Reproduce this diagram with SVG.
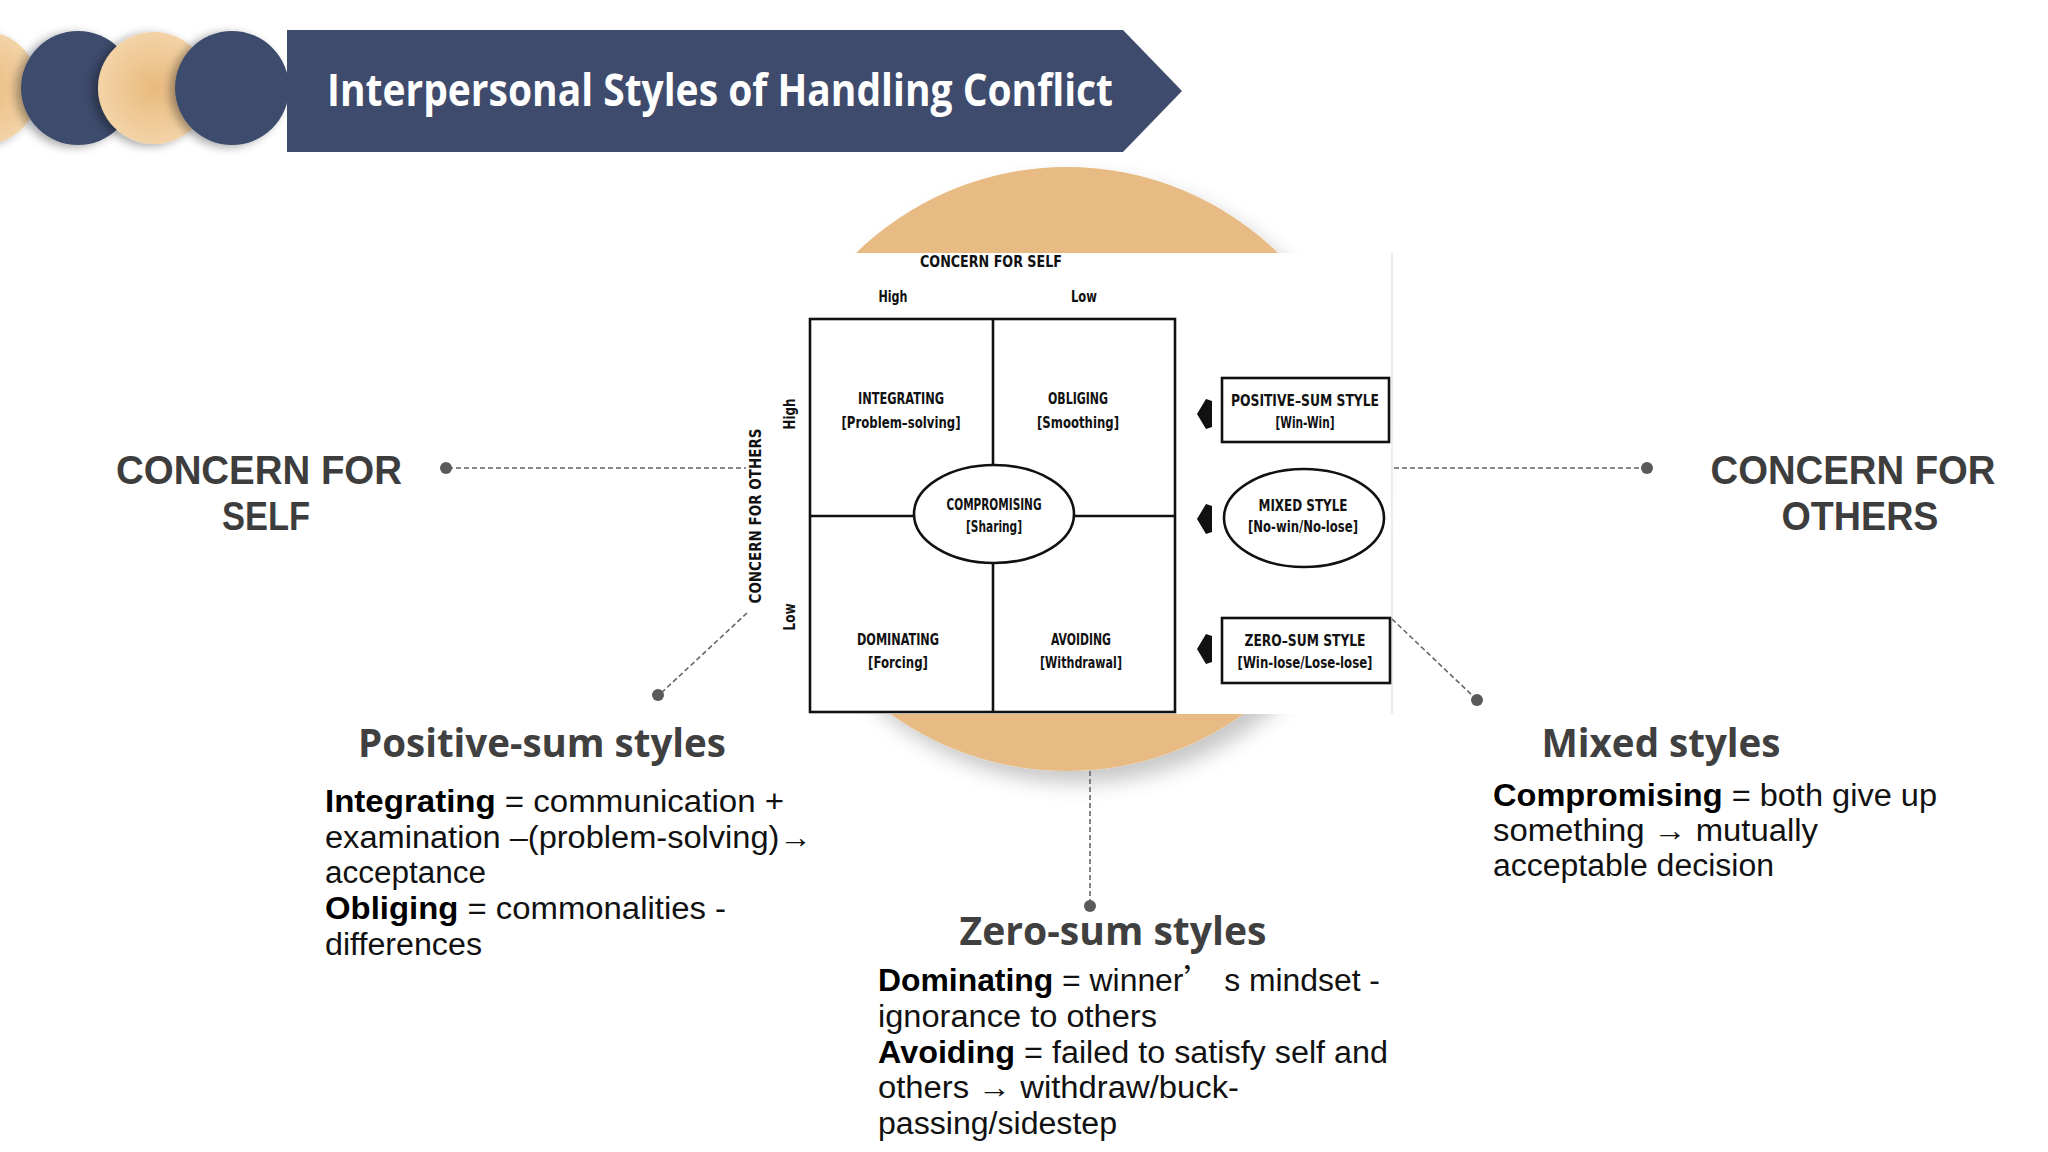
<svg xmlns="http://www.w3.org/2000/svg" width="2048" height="1152" viewBox="0 0 2048 1152">
  <defs>
    <radialGradient id="tanGrad" cx="50%" cy="50%" r="50%">
      <stop offset="0%" stop-color="#e9ba7e"/>
      <stop offset="100%" stop-color="#f3d3a7"/>
    </radialGradient>
    <filter id="circShadow" x="-30%" y="-30%" width="160%" height="160%">
      <feDropShadow dx="-5" dy="2" stdDeviation="5" flood-color="#000" flood-opacity="0.35"/>
    </filter>
    <filter id="bigShadow" x="-20%" y="-20%" width="140%" height="140%">
      <feDropShadow dx="10" dy="12" stdDeviation="10" flood-color="#000" flood-opacity="0.22"/>
    </filter>
    <style>
      .navy { fill: #3e4b6c; }
      .tan { fill: url(#tanGrad); }
      .title { font-family: "Open Sans", "Liberation Sans", sans-serif; font-weight: 700; font-size: 44px; fill: #ffffff; }
      .big { font-family: "Liberation Sans", Arial, sans-serif; font-weight: 700; font-size: 41px; fill: #3d3d3d; }
      .head { font-family: "Open Sans", "Liberation Sans", sans-serif; font-weight: 700; font-size: 39px; fill: #404040; }
      .body { font-family: "Liberation Sans", Arial, sans-serif; font-size: 31px; fill: #111111; }
      .b { font-weight: 700; fill: #000000; }
      .cjk { font-family: "Noto Sans CJK SC", sans-serif; }
      .fig { font-family: "DejaVu Sans Condensed", "Liberation Sans", sans-serif; font-weight: 700; font-size: 15px; fill: #111111; }
      .ln { fill: none; stroke: #111111; stroke-width: 2.6; }
      .dash { fill: none; stroke: #666666; stroke-width: 1.6; stroke-dasharray: 5 3; }
      .dot { fill: #5a5a5a; }
      .arr { fill: #111111; }
    </style>
  </defs>

  <rect x="0" y="0" width="2048" height="1152" fill="#ffffff"/>

  <!-- Header -->
  <g id="header">
    <circle class="tan" cx="-18" cy="88" r="57" filter="url(#circShadow)"/>
    <circle class="navy" cx="78" cy="88" r="57" filter="url(#circShadow)"/>
    <circle class="tan" cx="154" cy="88" r="56" filter="url(#circShadow)"/>
    <circle class="navy" cx="232" cy="88" r="57" filter="url(#circShadow)"/>
    <polygon class="navy" points="287,30 1123,30 1182,91 1123,152 287,152"/>
    <text class="title" x="327" y="106" textLength="786" lengthAdjust="spacingAndGlyphs">Interpersonal Styles of Handling Conflict</text>
  </g>

  <!-- Central figure background -->
  <g id="figure-bg">
    <circle cx="1067" cy="469" r="302" fill="#e8bb84" filter="url(#bigShadow)"/>
    <rect x="738" y="253" width="654" height="461" fill="#ffffff"/>
    <line x1="1392" y1="253" x2="1392" y2="714" stroke="#ececec" stroke-width="2"/>
  </g>

  <!-- Axis labels of figure -->
  <g id="axis-labels">
    <text class="fig" x="991" y="267" text-anchor="middle" textLength="142" lengthAdjust="spacingAndGlyphs">CONCERN FOR SELF</text>
    <text class="fig" x="893" y="302" text-anchor="middle" font-size="13" textLength="29" lengthAdjust="spacingAndGlyphs">High</text>
    <text class="fig" x="1084" y="302" text-anchor="middle" font-size="13" textLength="26" lengthAdjust="spacingAndGlyphs">Low</text>
    <text class="fig" transform="translate(761,516) rotate(-90)" x="0" y="0" text-anchor="middle" textLength="175" lengthAdjust="spacingAndGlyphs">CONCERN FOR OTHERS</text>
    <text class="fig" transform="translate(795,414) rotate(-90)" x="0" y="0" text-anchor="middle" font-size="13" textLength="31" lengthAdjust="spacingAndGlyphs">High</text>
    <text class="fig" transform="translate(795,617) rotate(-90)" x="0" y="0" text-anchor="middle" font-size="13" textLength="27" lengthAdjust="spacingAndGlyphs">Low</text>
  </g>

  <!-- Grid -->
  <g id="grid">
    <rect class="ln" x="810" y="319" width="365" height="393"/>
    <line class="ln" x1="993" y1="319" x2="993" y2="465"/>
    <line class="ln" x1="993" y1="564" x2="993" y2="712"/>
    <line class="ln" x1="810" y1="516" x2="914" y2="516"/>
    <line class="ln" x1="1073" y1="516" x2="1175" y2="516"/>
  </g>

  <g id="integrating">
    <text class="fig" x="901" y="404" text-anchor="middle" textLength="86" lengthAdjust="spacingAndGlyphs">INTEGRATING</text>
    <text class="fig" x="901" y="428" text-anchor="middle" textLength="119" lengthAdjust="spacingAndGlyphs">[Problem–solving]</text>
  </g>
  <g id="obliging">
    <text class="fig" x="1078" y="404" text-anchor="middle" textLength="60" lengthAdjust="spacingAndGlyphs">OBLIGING</text>
    <text class="fig" x="1078" y="428" text-anchor="middle" textLength="82" lengthAdjust="spacingAndGlyphs">[Smoothing]</text>
  </g>
  <g id="compromising">
    <ellipse class="ln" cx="994" cy="514" rx="80" ry="49" fill="#ffffff"/>
    <text class="fig" x="994" y="510" text-anchor="middle" textLength="95" lengthAdjust="spacingAndGlyphs">COMPROMISING</text>
    <text class="fig" x="994" y="532" text-anchor="middle" textLength="56" lengthAdjust="spacingAndGlyphs">[Sharing]</text>
  </g>
  <g id="dominating">
    <text class="fig" x="898" y="645" text-anchor="middle" textLength="82" lengthAdjust="spacingAndGlyphs">DOMINATING</text>
    <text class="fig" x="898" y="668" text-anchor="middle" textLength="60" lengthAdjust="spacingAndGlyphs">[Forcing]</text>
  </g>
  <g id="avoiding">
    <text class="fig" x="1081" y="645" text-anchor="middle" textLength="60" lengthAdjust="spacingAndGlyphs">AVOIDING</text>
    <text class="fig" x="1081" y="668" text-anchor="middle" textLength="82" lengthAdjust="spacingAndGlyphs">[Withdrawal]</text>
  </g>

  <!-- Style boxes -->
  <g id="positive-sum-style">
    <path class="arr" d="M1197,414 L1206,399 L1212,401 L1212,427 L1206,429 Z"/>
    <rect class="ln" x="1222" y="378" width="167" height="64"/>
    <text class="fig" x="1305" y="406" text-anchor="middle" textLength="148" lengthAdjust="spacingAndGlyphs">POSITIVE–SUM STYLE</text>
    <text class="fig" x="1305" y="428" text-anchor="middle" textLength="59" lengthAdjust="spacingAndGlyphs">[Win-Win]</text>
  </g>
  <g id="mixed-style">
    <path class="arr" d="M1197,519 L1206,504 L1212,506 L1212,532 L1206,534 Z"/>
    <ellipse class="ln" cx="1304" cy="518" rx="80" ry="49"/>
    <text class="fig" x="1303" y="511" text-anchor="middle" textLength="89" lengthAdjust="spacingAndGlyphs">MIXED STYLE</text>
    <text class="fig" x="1303" y="532" text-anchor="middle" textLength="110" lengthAdjust="spacingAndGlyphs">[No-win/No-lose]</text>
  </g>
  <g id="zero-sum-style">
    <path class="arr" d="M1197,649 L1206,634 L1212,636 L1212,662 L1206,664 Z"/>
    <rect class="ln" x="1222" y="618" width="168" height="65"/>
    <text class="fig" x="1305" y="646" text-anchor="middle" textLength="121" lengthAdjust="spacingAndGlyphs">ZERO–SUM STYLE</text>
    <text class="fig" x="1305" y="668" text-anchor="middle" textLength="135" lengthAdjust="spacingAndGlyphs">[Win-lose/Lose-lose]</text>
  </g>

  <!-- Connectors -->
  <g id="connectors">
    <line class="dash" x1="448" y1="468" x2="746" y2="468"/>
    <circle class="dot" cx="446" cy="468" r="6"/>
    <line class="dash" x1="1394" y1="468" x2="1645" y2="468"/>
    <circle class="dot" cx="1647" cy="468" r="6"/>
    <line class="dash" x1="747" y1="613" x2="660" y2="694"/>
    <circle class="dot" cx="658" cy="695" r="6"/>
    <line class="dash" x1="1392" y1="619" x2="1475" y2="698"/>
    <circle class="dot" cx="1477" cy="700" r="6"/>
    <line class="dash" x1="1090" y1="771" x2="1090" y2="903"/>
    <circle class="dot" cx="1090" cy="906" r="6"/>
  </g>

  <!-- Side labels -->
  <g id="concern-self">
    <text class="big" x="259" y="484" text-anchor="middle" textLength="286" lengthAdjust="spacingAndGlyphs">CONCERN FOR</text>
    <text class="big" x="266" y="530" text-anchor="middle" textLength="88" lengthAdjust="spacingAndGlyphs">SELF</text>
  </g>
  <g id="concern-others">
    <text class="big" x="1853" y="484" text-anchor="middle" textLength="285" lengthAdjust="spacingAndGlyphs">CONCERN FOR</text>
    <text class="big" x="1860" y="530" text-anchor="middle" textLength="157" lengthAdjust="spacingAndGlyphs">OTHERS</text>
  </g>

  <!-- Description blocks -->
  <g id="positive-sum-styles">
    <text class="head" x="542" y="757" text-anchor="middle" textLength="368" lengthAdjust="spacingAndGlyphs">Positive-sum styles</text>
    <text class="body" x="325" y="812" textLength="459" lengthAdjust="spacingAndGlyphs"><tspan class="b">Integrating</tspan> = communication +</text>
    <text class="body" x="325" y="848" textLength="487" lengthAdjust="spacingAndGlyphs">examination –(problem-solving)→</text>
    <text class="body" x="325" y="883" textLength="161" lengthAdjust="spacingAndGlyphs">acceptance</text>
    <text class="body" x="325" y="919" textLength="401" lengthAdjust="spacingAndGlyphs"><tspan class="b">Obliging</tspan> = commonalities -</text>
    <text class="body" x="325" y="955" textLength="157" lengthAdjust="spacingAndGlyphs">differences</text>
  </g>
  <g id="zero-sum-styles">
    <text class="head" x="1113" y="945" text-anchor="middle" textLength="307" lengthAdjust="spacingAndGlyphs">Zero-sum styles</text>
    <text class="body" x="878" y="991" textLength="502" lengthAdjust="spacingAndGlyphs"><tspan class="b">Dominating</tspan> = winner<tspan class="cjk">’</tspan> s mindset -</text>
    <text class="body" x="878" y="1027" textLength="279" lengthAdjust="spacingAndGlyphs">ignorance to others</text>
    <text class="body" x="878" y="1063" textLength="510" lengthAdjust="spacingAndGlyphs"><tspan class="b">Avoiding</tspan> = failed to satisfy self and</text>
    <text class="body" x="878" y="1098" textLength="361" lengthAdjust="spacingAndGlyphs">others → withdraw/buck-</text>
    <text class="body" x="878" y="1134" textLength="239" lengthAdjust="spacingAndGlyphs">passing/sidestep</text>
  </g>
  <g id="mixed-styles">
    <text class="head" x="1661" y="757" text-anchor="middle" textLength="239" lengthAdjust="spacingAndGlyphs">Mixed styles</text>
    <text class="body" x="1493" y="806" textLength="444" lengthAdjust="spacingAndGlyphs"><tspan class="b">Compromising</tspan> = both give up</text>
    <text class="body" x="1493" y="841" textLength="325" lengthAdjust="spacingAndGlyphs">something → mutually</text>
    <text class="body" x="1493" y="876" textLength="281" lengthAdjust="spacingAndGlyphs">acceptable decision</text>
  </g>
</svg>
